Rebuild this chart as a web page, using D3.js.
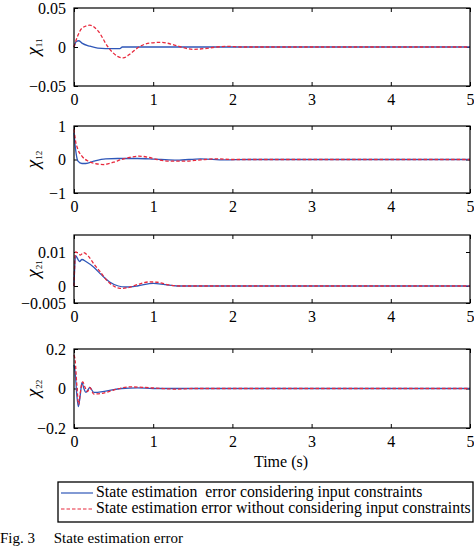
<!DOCTYPE html>
<html>
<head>
<meta charset="utf-8">
<script src="https://cdn.jsdelivr.net/npm/d3@7"></script>
<style>
  body { margin: 0; background: #fff; }
  svg { display: block; }
  text { font-family: "Liberation Serif", "Times New Roman", serif; fill: #000; }
</style>
</head>
<body>
<script>
// time ticks shared by all panels
const timeTicks = [0, 1, 2, 3, 4, 5];

// chi_11
const t11Blue = [0, 0.03, 0.06, 0.1, 0.2, 0.3, 0.4, 0.58, 0.61, 5];
const v11Blue = [0, 0.007, 0.008, 0.005, 0.001, -0.0015, -0.002, -0.002, 0, 0];
const t11Red = [0, 0.05, 0.1, 0.2, 0.3, 0.43, 0.55, 0.62, 0.72, 0.82, 0.95, 1.1, 1.25, 1.35, 1.5, 1.65, 1.8, 1.95, 2.1, 5];
const v11Red = [0, 0.015, 0.024, 0.028, 0.021, 0, -0.012, -0.014, -0.008, 0, 0.005, 0.006, 0.003, 0, -0.003, -0.002, 0, 0.0008, 0, 0];

// chi_12
const t12Blue = [0, 0.02, 0.05, 0.1, 0.15, 0.25, 0.4, 0.55, 0.8, 0.95, 1.1, 1.3, 1.6, 1.9, 2.2, 5];
const v12Blue = [0.8, 0.3, -0.05, -0.12, -0.12, -0.05, 0.02, 0.03, 0.03, 0.02, 0, -0.02, 0.02, -0.01, 0, 0];
const t12Red = [0, 0.02, 0.05, 0.1, 0.18, 0.27, 0.37, 0.5, 0.6, 0.7, 0.82, 0.95, 1.05, 1.2, 1.4, 1.6, 1.8, 2.0, 5];
const v12Red = [0.9, 0.55, 0.3, 0.1, -0.05, -0.12, -0.15, -0.08, 0, 0.06, 0.1, 0.06, 0, -0.05, -0.05, -0.01, 0.02, 0, 0];

// chi_21
const t21Blue = [0, 0.02, 0.07, 0.1, 0.15, 0.25, 0.35, 0.45, 0.56, 0.65, 0.8, 1.0, 1.15, 1.3, 5];
const v21Blue = [0, 0.0089, 0.0072, 0.0078, 0.0072, 0.0055, 0.0032, 0.0012, 0, -0.0003, 0, 0.0008, 0.0004, 0, 0];
const t21Red = [0, 0.02, 0.05, 0.08, 0.12, 0.18, 0.25, 0.33, 0.42, 0.5, 0.58, 0.68, 0.8, 0.95, 1.05, 1.2, 1.35, 5];
const v21Red = [0, 0.01, 0.0097, 0.0091, 0.0098, 0.0088, 0.0065, 0.0042, 0.0015, 0, -0.0007, -0.0005, 0.0004, 0.0012, 0.0011, 0.0003, 0, 0];

// chi_22
const t22Blue = [0, 0.015, 0.035, 0.055, 0.08, 0.1, 0.125, 0.15, 0.18, 0.2, 0.25, 0.4, 0.6, 0.8, 1.0, 5];
const v22Blue = [0.12, 0.08, -0.03, -0.092, -0.03, 0.03, 0, -0.02, -0.005, 0.005, -0.02, -0.013, 0, 0.003, 0, 0];
const t22Red = [0, 0.015, 0.035, 0.06, 0.08, 0.11, 0.14, 0.17, 0.2, 0.25, 0.35, 0.5, 0.7, 0.9, 1.1, 1.3, 1.5, 5];
const v22Red = [0.17, 0.14, 0.02, -0.08, -0.02, 0.034, 0.005, -0.016, 0.005, -0.028, -0.025, -0.008, 0.008, 0.005, 0, -0.003, 0, 0];

const legendLabels = [
  "State estimation\u00a0 error considering input constraints",
  "State estimation error without considering input constraints"
];

const panels = [
  { sub: "11", domain: [-0.05, 0.05], ticks: [-0.05, 0, 0.05], labels: ["\u22120.05", "0", "0.05"],
    top: 8, bottom: 86, blue: [t11Blue, v11Blue], red: [t11Red, v11Red] },
  { sub: "12", domain: [-1, 1], ticks: [-1, 0, 1], labels: ["\u22121", "0", "1"],
    top: 126, bottom: 193, blue: [t12Blue, v12Blue], red: [t12Red, v12Red] },
  { sub: "21", domain: [-0.005, 0.015], ticks: [-0.005, 0, 0.01], labels: ["\u22120.005", "0", "0.01"],
    top: 235, bottom: 303, blue: [t21Blue, v21Blue], red: [t21Red, v21Red] },
  { sub: "22", domain: [-0.2, 0.2], ticks: [-0.2, 0, 0.2], labels: ["\u22120.2", "0", "0.2"],
    top: 349, bottom: 428, blue: [t22Blue, v22Blue], red: [t22Red, v22Red] }
];

const width = 474, height = 547;
const left = 74, right = 470;
const blueColor = "#2f57b8", redColor = "#e8283c";

const svg = d3.select("body").append("svg")
  .attr("width", width)
  .attr("height", height);

const x = d3.scaleLinear().domain([0, 5]).range([left, right]);

panels.forEach(p => {
  const y = d3.scaleLinear().domain(p.domain).range([p.bottom, p.top]);
  const g = svg.append("g");

  // inward ticks on all four sides
  g.append("g").attr("transform", `translate(0,${p.bottom})`)
    .call(d3.axisBottom(x).tickValues(timeTicks).tickSize(-4).tickPadding(8).tickFormat(d3.format("d")));
  g.append("g").attr("transform", `translate(0,${p.top})`)
    .call(d3.axisTop(x).tickValues(timeTicks).tickSize(-4).tickFormat(""));
  g.append("g").attr("transform", `translate(${left},0)`)
    .call(d3.axisLeft(y).tickValues(p.ticks).tickSize(-4).tickPadding(8).tickFormat((d, i) => p.labels[i]));
  g.append("g").attr("transform", `translate(${right},0)`)
    .call(d3.axisRight(y).tickValues(p.ticks).tickSize(-4).tickFormat(""));

  g.selectAll(".domain").remove();
  g.selectAll(".tick line").attr("stroke", "#000").attr("stroke-width", 1);
  g.selectAll(".tick text").style("font-size", "16px").attr("fill", "#000");

  const line = d3.line()
    .x(d => x(d[0]))
    .y(d => y(d[1]))
    .curve(d3.curveMonotoneX);

  g.append("path")
    .datum(d3.zip(p.blue[0], p.blue[1]))
    .attr("fill", "none")
    .attr("stroke", blueColor)
    .attr("stroke-width", 1.3)
    .attr("d", line);

  g.append("path")
    .datum(d3.zip(p.red[0], p.red[1]))
    .attr("fill", "none")
    .attr("stroke", redColor)
    .attr("stroke-width", 1.3)
    .attr("stroke-dasharray", "3.5,2")
    .attr("d", line);

  g.append("rect")
    .attr("x", left).attr("y", p.top)
    .attr("width", right - left).attr("height", p.bottom - p.top)
    .attr("fill", "none").attr("stroke", "#000").attr("stroke-width", 1.2);

  const lab = g.append("text")
    .attr("transform", `translate(39,${(p.top + p.bottom) / 2}) rotate(-90)`)
    .attr("text-anchor", "middle")
    .style("font-size", "19px")
    .style("font-style", "italic");
  lab.append("tspan").text("\u03c7");
  lab.append("tspan").attr("dy", 3).style("font-size", "9px").style("font-style", "normal").text(p.sub);
});

svg.append("text")
  .attr("x", 281).attr("y", 467)
  .attr("text-anchor", "middle")
  .style("font-size", "16px")
  .text("Time (s)");

// legend
const legend = svg.append("g");
legend.append("rect")
  .attr("x", 58).attr("y", 482).attr("width", 415).attr("height", 40)
  .attr("fill", "#fff").attr("stroke", "#000").attr("stroke-width", 1.3);

legendLabels.forEach((txt, i) => {
  const yy = 497 + i * 16;
  legend.append("line")
    .attr("x1", 61).attr("x2", 93)
    .attr("y1", yy - 4).attr("y2", yy - 4)
    .attr("stroke", i === 0 ? blueColor : redColor)
    .attr("stroke-width", 1.2)
    .attr("stroke-dasharray", i === 0 ? null : "3.5,2");
  legend.append("text")
    .attr("x", 96).attr("y", yy)
    .style("font-size", "15.8px")
    .text(txt);
});

svg.append("text")
  .attr("x", 0).attr("y", 543)
  .style("font-size", "15px")
  .text("Fig. 3\u00a0\u00a0\u00a0\u00a0 State estimation error");
</script>
</body>
</html>
